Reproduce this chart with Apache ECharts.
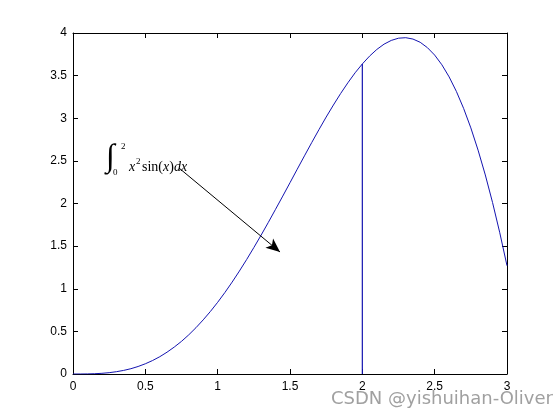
<!DOCTYPE html>
<html><head><meta charset="utf-8">
<script src="https://cdn.jsdelivr.net/npm/echarts@6/dist/echarts.min.js"></script>
<style>html,body{margin:0;padding:0;background:#fff}#c{width:560px;height:420px}</style>
</head><body><div id="c"></div>
<script>
// x values and y = x^2 sin(x)
var xVals = [0,0.05,0.1,0.15,0.2,0.25,0.3,0.35,0.4,0.45,0.5,0.55,0.6,0.65,0.7,0.75,0.8,0.85,0.9,0.95,1.0,1.05,1.1,1.15,1.2,1.25,1.3,1.35,1.4,1.45,1.5,1.55,1.6,1.65,1.7,1.75,1.8,1.85,1.9,1.95,2.0,2.05,2.1,2.15,2.2,2.25,2.3,2.35,2.4,2.45,2.5,2.55,2.6,2.65,2.7,2.75,2.8,2.85,2.9,2.95,3.0];
var yVals = [0,0.0001,0.001,0.0034,0.008,0.0155,0.027,0.042,0.062,0.088,0.120,0.158,0.203,0.256,0.316,0.383,0.459,0.543,0.635,0.734,0.841,0.956,1.078,1.207,1.342,1.483,1.628,1.778,1.932,2.087,2.244,2.402,2.559,2.714,2.866,3.014,3.155,3.290,3.416,3.533,3.637,3.729,3.807,3.869,3.913,3.939,3.945,3.929,3.891,3.828,3.741,3.627,3.485,3.315,3.116,2.887,2.626,2.335,2.012,1.657,1.270];
var vLineX = [2, 2];
var vLineY = [0, 3.637];
var arrowFrom = [0.733, 2.416];
var arrowTo = [1.431, 1.431];
var xTicks = [0, 0.5, 1, 1.5, 2, 2.5, 3];
var yTicks = [0, 0.5, 1, 1.5, 2, 2.5, 3, 3.5, 4];

var lineColor = '#1414b0';
var chart = echarts.init(document.getElementById('c'), null, {renderer: 'canvas'});
var curve = xVals.map(function (x, i) { return [x, yVals[i]]; });
var vline = vLineX.map(function (x, i) { return [x, vLineY[i]]; });
var font = 'Arial, "Liberation Sans", sans-serif';
var serif = '"Times New Roman", "Liberation Serif", serif';

function axisBase(show) {
  return {
    type: 'value', axisLine: {show: true, onZero: false, lineStyle: {color: '#000', width: 1}},
    axisTick: {show: true, inside: true, length: 5, lineStyle: {color: '#000'}},
    splitLine: {show: false},
    axisLabel: {show: show, color: '#000', fontSize: 12, fontFamily: font, margin: 6}
  };
}
var xb = axisBase(true), xt = axisBase(false), yl = axisBase(true), yr = axisBase(false);
[xb, xt].forEach(function (a) { a.min = xTicks[0]; a.max = xTicks[xTicks.length - 1]; a.interval = 0.5; });
[yl, yr].forEach(function (a) { a.min = yTicks[0]; a.max = yTicks[yTicks.length - 1]; a.interval = 0.5; });
xb.position = 'bottom'; xt.position = 'top';
yl.position = 'left'; yr.position = 'right';
xb.axisLabel.margin = 7;

var tStyle = function (t, x, y, size, fam, italic) {
  return {type: 'text', left: x, top: y, silent: true,
    style: {text: t, fontSize: size, fontFamily: fam, fontStyle: italic ? 'italic' : 'normal', fill: '#000'}};
};

chart.setOption({
  animation: false,
  backgroundColor: '#fff',
  grid: {left: 73, right: 53, top: 33, bottom: 46},
  xAxis: [xb, xt],
  yAxis: [yl, yr],
  series: [
    {type: 'line', data: curve, showSymbol: false, lineStyle: {color: lineColor, width: 1}, itemStyle: {color: lineColor},
      markLine: {silent: true, symbol: ['none', 'arrow'], symbolSize: [9, 14], label: {show: false},
        lineStyle: {color: '#000', width: 1, type: 'solid'},
        data: [[{coord: arrowFrom}, {coord: arrowTo}]]}},
    {type: 'line', data: vline, showSymbol: false, lineStyle: {color: lineColor, width: 1.2}}
  ],
  graphic: [
    tStyle('\u222B', 106, 142, 32, serif, true),
    tStyle('2', 121, 142, 9, serif, false),
    tStyle('0', 113, 168, 9, serif, false),
    tStyle('x', 129, 160, 14, serif, true),
    tStyle('2', 136, 157, 9, serif, false),
    {type: 'text', left: 142, top: 160, silent: true,
      style: {text: '{r|sin(}{i|x}{r|)}{i|dx}', fill: '#000',
        rich: {r: {fontSize: 14, fontFamily: serif, fill: '#000'},
               i: {fontSize: 14, fontFamily: serif, fontStyle: 'italic', fill: '#000'}}}},
    {type: 'text', right: 7, top: 390, silent: true,
      style: {text: 'CSDN @yishuihan-Oliver', fontSize: 18, fontFamily: '"DejaVu Sans", sans-serif', fill: '#a0a0a0'}}
  ]
});
</script></body></html>
